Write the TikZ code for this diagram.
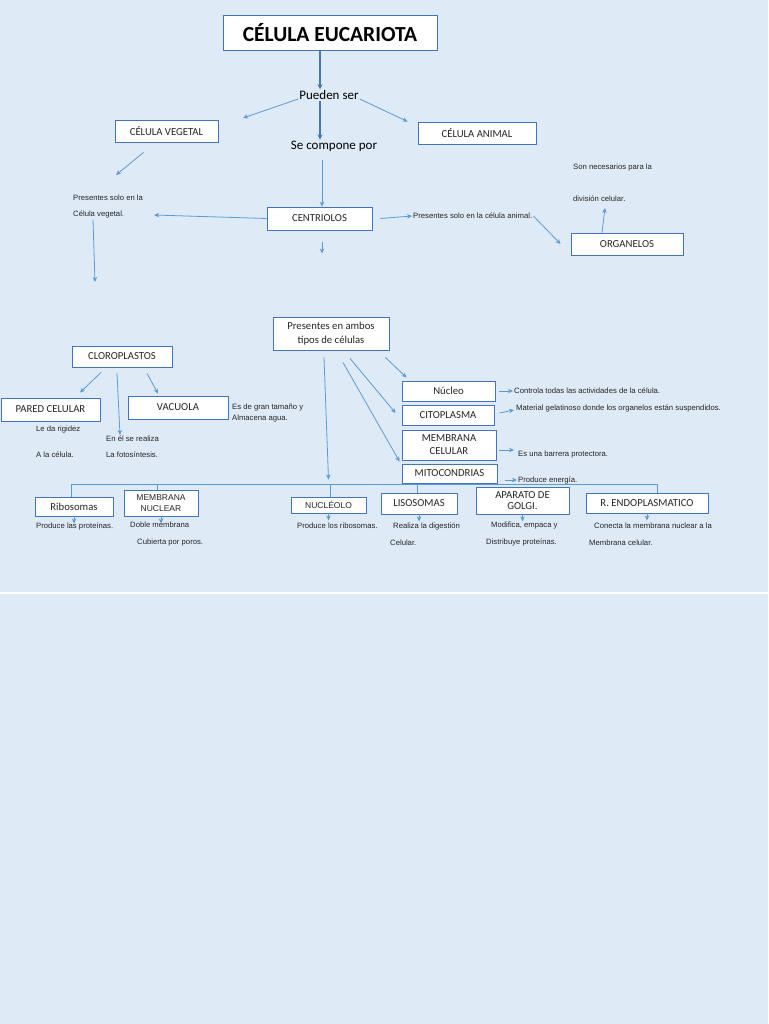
\documentclass[tikz,border=0pt]{standalone}
\usepackage{fontspec}
\setmainfont{Carlito}
\newfontfamily\notafont{Liberation Sans}
\usetikzlibrary{arrows.meta}

\definecolor{fondo}{RGB}{222,234,246}
\definecolor{borde}{RGB}{68,114,196}
\definecolor{flechaazul}{RGB}{91,155,213}
\definecolor{flechaoscura}{RGB}{70,120,175}
\definecolor{texto}{RGB}{38,38,38}

\begin{document}
\begin{tikzpicture}[x=1pt, y=-1pt,
    caja/.style={draw=borde, line width=0.9pt, fill=white, inner sep=1pt, align=center, text=texto, font=\fontsize{10.7}{11.5}\selectfont},
    nota/.style={anchor=west, inner sep=1pt, align=left, text=texto, font=\notafont\fontsize{7.7}{#1}\selectfont},
    nota/.default=9,
    frase/.style={inner sep=1pt, text=black, font=\fontsize{13}{15}\selectfont},
    flecha/.style={draw=flechaazul, line width=0.8pt, -{Stealth[length=5pt,width=4.5pt]}},
    gruesa/.style={draw=flechaoscura, line width=2pt, -{Stealth[length=5pt,width=5pt]}},
    linea/.style={draw=flechaazul, line width=0.8pt}]

    \useasboundingbox (0,0) rectangle (768,1024);
    \fill[fondo] (0,0) rectangle (768,1024);
    \draw[white, line width=1.5pt] (0,593) -- (768,593);

    % Draw boxes
    \node[caja, minimum width=214pt, minimum height=35pt, text=black, font=\fontsize{21.5}{24}\selectfont\bfseries] (titulo) at (330,32.5) {CÉLULA EUCARIOTA};
    \node[frase] (pueden) at (329,95) {Pueden ser};
    \node[frase] (compone) at (334,146) {Se compone por};
    \node[caja, minimum width=103pt, minimum height=22pt] (vegetal) at (166.5,131) {CÉLULA VEGETAL};
    \node[caja, minimum width=118pt, minimum height=22pt] (animal) at (477,133) {CÉLULA ANIMAL};
    \node[caja, minimum width=105pt, minimum height=23pt] (centriolos) at (319.5,218.5) {CENTRIOLOS};
    \node[caja, minimum width=112pt, minimum height=22pt] (organelos) at (627,244) {ORGANELOS};
    \node[caja, minimum width=116pt, minimum height=33pt, font=\fontsize{10.7}{14}\selectfont] (ambos) at (331,333.5) {Presentes en ambos\\tipos de células};
    \node[caja, minimum width=100pt, minimum height=21pt] (cloroplastos) at (122,356.5) {CLOROPLASTOS};
    \node[caja, minimum width=99pt, minimum height=23pt] (pared) at (50.5,409.5) {PARED CELULAR};
    \node[caja, minimum width=100pt, minimum height=23pt] (vacuola) at (178,407.5) {VACUOLA};
    \node[caja, minimum width=93pt, minimum height=20pt] (nucleo) at (448.5,391) {Núcleo};
    \node[caja, minimum width=92pt, minimum height=20pt] (citoplasma) at (448,415) {CITOPLASMA};
    \node[caja, minimum width=94pt, minimum height=30pt, font=\fontsize{10.7}{13}\selectfont] (membrana) at (449,445) {MEMBRANA\\CELULAR};
    \node[caja, minimum width=95pt, minimum height=19pt] (mitocondrias) at (449.5,473.5) {MITOCONDRIAS};
    \node[caja, minimum width=78pt, minimum height=19pt] (ribosomas) at (74,506.5) {Ribosomas};
    \node[caja, minimum width=74pt, minimum height=26pt, font=\notafont\fontsize{8.5}{10.5}\selectfont] (memnuclear) at (161,503) {MEMBRANA\\NUCLEAR};
    \node[caja, minimum width=75pt, minimum height=16pt, font=\notafont\fontsize{8.5}{10}\selectfont] (nucleolo) at (328.5,505) {NUCLÉOLO};
    \node[caja, minimum width=76pt, minimum height=21pt] (lisosomas) at (419,503.5) {LISOSOMAS};
    \node[caja, minimum width=93pt, minimum height=27pt] (golgi) at (522.5,500.5) {APARATO DE\\GOLGI.};
    \node[caja, minimum width=122pt, minimum height=20pt] (reticulo) at (647,503) {R. ENDOPLASMATICO};

    % Labels
    \node[nota=16] (notaveg) at (72,207) {Presentes solo en la\\Célula vegetal.};
    \node[nota] (notaanimal) at (412,216) {Presentes solo en la célula animal.};
    \node[nota=32] (notaorg) at (572,183) {Son necesarios para la\\división celular.};
    \node[nota=11] (notavac) at (231,413.5) {Es de gran tamaño y\\Almacena agua.};
    \node[nota=26] (notapared) at (35,442) {Le da rigidez\\A la célula.};
    \node[nota=16] (notaclor) at (105,447) {En él se realiza\\La fotosíntesis.};
    \node[nota] (notanucleo) at (513,391) {Controla todas las actividades de la célula.};
    \node[nota] (notacito) at (515,408) {Material gelatinoso donde los organelos están suspendidos.};
    \node[nota] (notamem) at (517,455) {Es una barrera protectora.};
    \node[nota] (notamito) at (517,480) {Produce energía.};
    \node[nota] (notarib) at (35,526) {Produce las proteínas.};
    \node[nota=17] (notamemnuc) at (129,534.5) {Doble membrana\\\hspace*{7pt}Cubierta por poros.};
    \node[nota] (notanucleolo) at (296,526) {Produce los ribosomas.};
    \node[nota=17] (notalis) at (389,534.5) {\hspace*{3pt}Realiza la digestión\\Celular.};
    \node[nota=17] (notagolgi) at (485,534.5) {\hspace*{5pt}Modifica, empaca y\\Distribuye proteínas.};
    \node[nota=17] (notaret) at (588,534.5) {\hspace*{5pt}Conecta la membrana nuclear a la\\Membrana celular.};

    % Free ends
    \coordinate (finveg) at (243,118);
    \coordinate (finnotaveg) at (116,175);
    \coordinate (fincent) at (154,215);
    \coordinate (finorg) at (605,208);
    \coordinate (finbajo) at (95,282);
    \coordinate (barra) at (70,484);

    % Draw connections
    \draw[gruesa] ([xshift=-10pt]titulo.south) -- ([xshift=-9pt]pueden.north);
    \draw[gruesa] ([xshift=-9pt]pueden.south) -- ([xshift=-14pt]compone.north);
    \draw[flecha] ([yshift=-4pt]pueden.west) -- (finveg);
    \draw[flecha] ([yshift=-4pt]pueden.east) -- ([xshift=-10pt]animal.north west);
    \draw[flecha] ([xshift=-23pt,yshift=-10pt]vegetal.south) -- (finnotaveg);
    \draw[flecha] ([xshift=-12pt,yshift=-8pt]compone.south) -- ([xshift=2.5pt]centriolos.north);
    \draw[flecha] (centriolos.west) -- (fincent);
    \draw[flecha] ([xshift=8pt]centriolos.east) -- (notaanimal.west);
    \draw[flecha] (notaanimal.east) -- ([xshift=-10pt]organelos.west);
    \draw[flecha] ([xshift=-25pt]organelos.north) -- (finorg);
    \draw[flecha] ([xshift=2.5pt,yshift=-12pt]centriolos.south) -- ([xshift=2.5pt,yshift=-23pt]centriolos.south);
    \draw[flecha] ([xshift=21pt]notaveg.south west) -- (finbajo);

    \draw[flecha] ([xshift=-21pt,yshift=-5pt]cloroplastos.south) -- ([xshift=29.5pt,yshift=5pt]pared.north);
    \draw[flecha] ([xshift=-5pt,yshift=-6pt]cloroplastos.south) -- ([xshift=15pt]notaclor.north west);
    \draw[flecha] ([xshift=25pt,yshift=-6pt]cloroplastos.south) -- ([xshift=-20pt,yshift=2pt]vacuola.north);

    \draw[flecha] ([xshift=-7pt,yshift=-7pt]ambos.south) -- ([yshift=17pt]nucleolo.north);
    \draw[flecha] ([xshift=12pt,yshift=-12pt]ambos.south) -- ([xshift=-2pt,yshift=2pt]mitocondrias.north west);
    \draw[flecha] ([xshift=19pt,yshift=-8pt]ambos.south) -- ([xshift=-6pt,yshift=2pt]citoplasma.west);
    \draw[flecha] ([xshift=-4pt,yshift=-7pt]ambos.south east) -- ([xshift=5pt,yshift=3pt]nucleo.north west);

    \draw[flecha] ([xshift=4pt]nucleo.east) -- (notanucleo.west);
    \draw[flecha] ([xshift=5pt,yshift=2pt]citoplasma.east) -- ([xshift=-1pt,yshift=-2pt]notacito.west);
    \draw[flecha] ([xshift=3pt,yshift=-5pt]membrana.east) -- ([xshift=-3pt,yshift=5pt]notamem.west);
    \draw[flecha] ([xshift=8pt,yshift=-6.5pt]mitocondrias.east) -- (notamito.west);

    % Bottom row
    \draw[linea] ([xshift=-3pt]ribosomas.north) |- ([xshift=10pt]reticulo.north |- barra) -- ([xshift=10pt]reticulo.north);
    \foreach \n/\d in {memnuclear/-4pt, nucleolo/1.5pt, lisosomas/-2pt}
        \draw[linea] ([xshift=\d]\n.north) -- ([xshift=\d]\n.north |- barra);
    \foreach \n in {ribosomas, memnuclear, nucleolo, lisosomas, golgi, reticulo}
        \draw[flecha] (\n.south) -- ([yshift=-7pt]\n.south);
\end{tikzpicture}
\end{document}
